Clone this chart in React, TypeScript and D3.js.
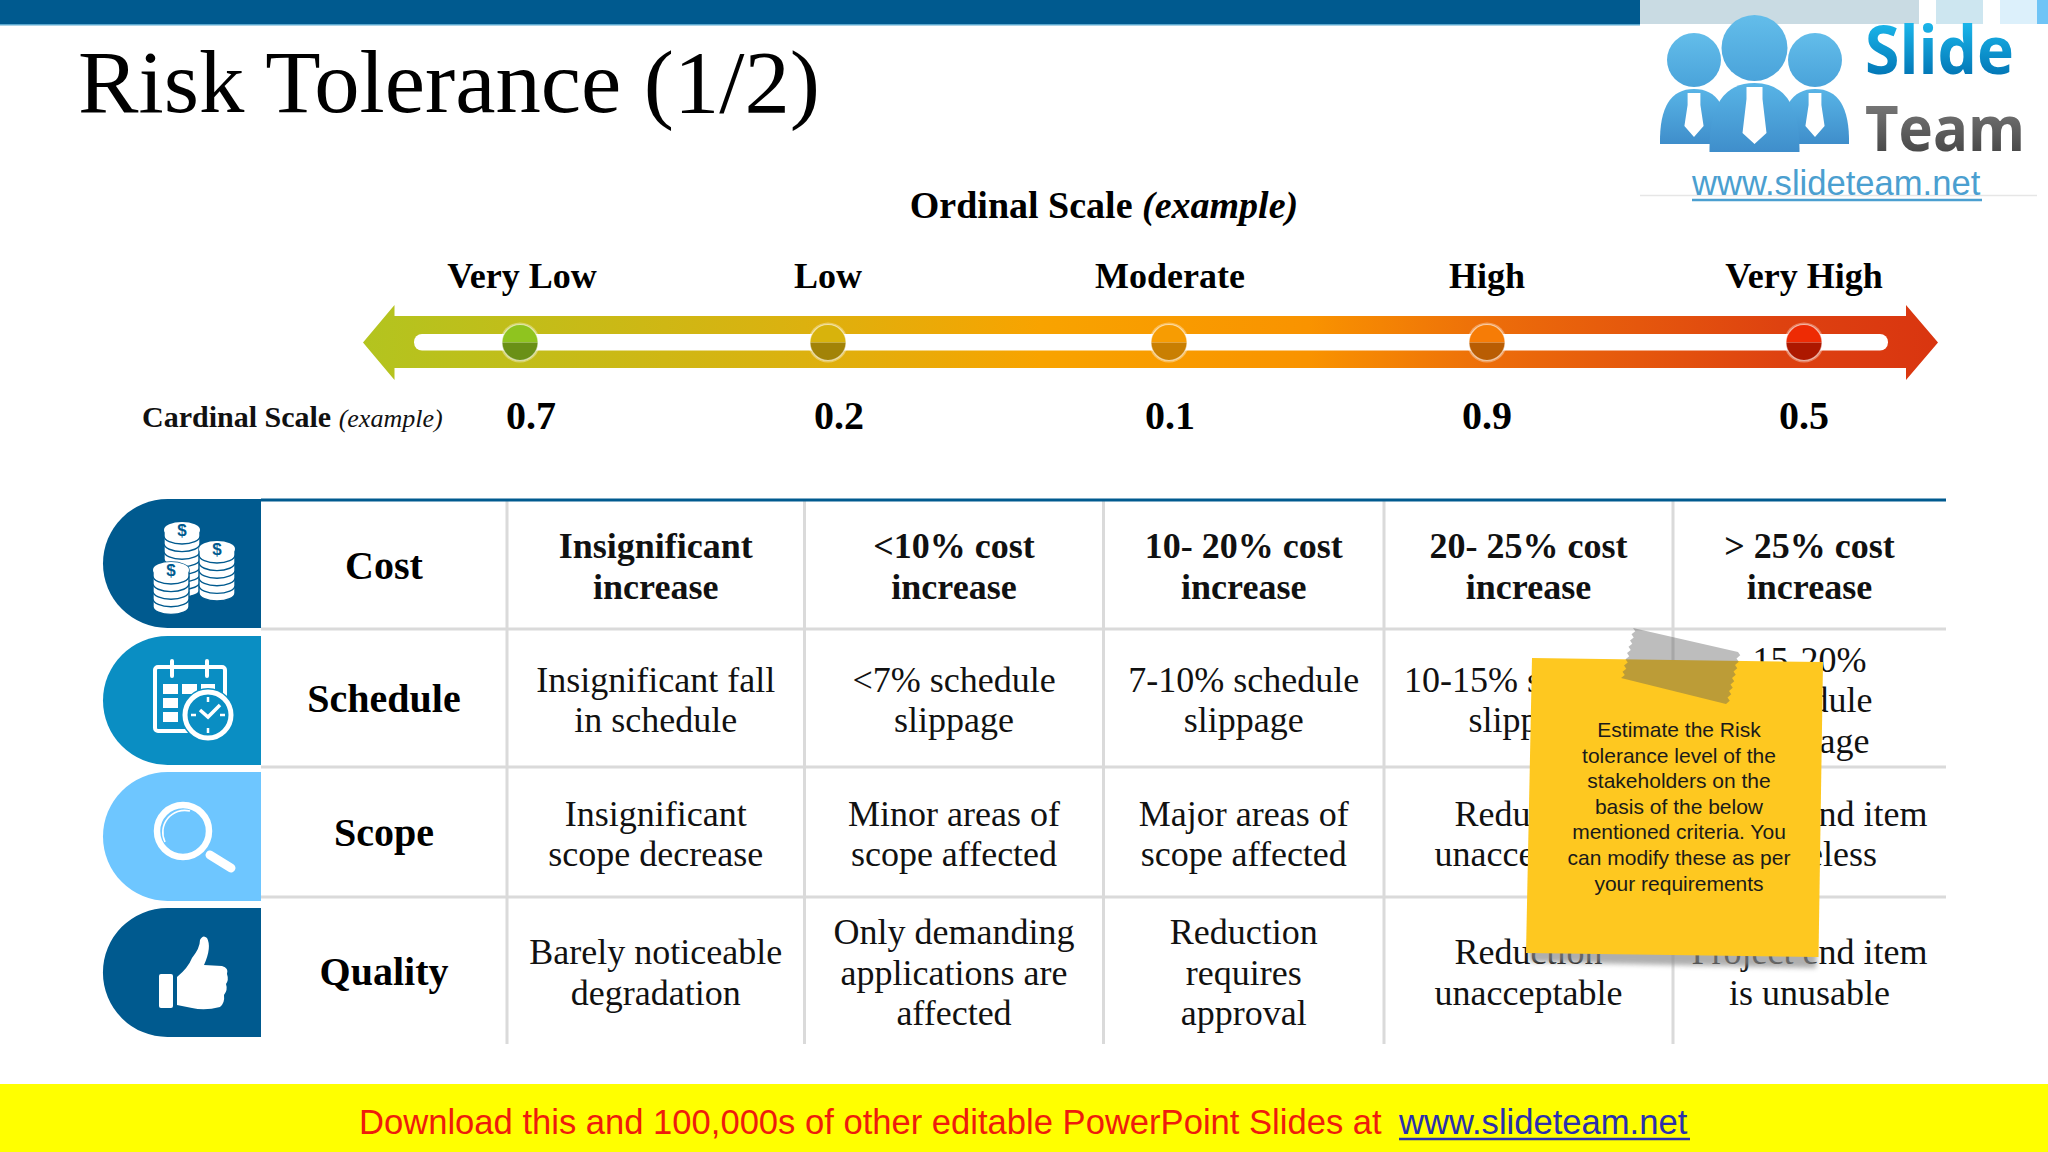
import * as d3 from 'd3';
import React from "react";

// --- data ---
const levels = ["Very Low", "Low", "Moderate", "High", "Very High"];
const cardinal = [0.7, 0.2, 0.1, 0.9, 0.5];
const dotTop = ["#8fc41f", "#d8b30c", "#f79c02", "#f67c06", "#ee2b04"];
const dotBottom = ["#6a9016", "#a28307", "#c97f02", "#b95d03", "#ad1800"];
const criteria = ["Cost", "Schedule", "Scope", "Quality"];
const criteriaColor = ["#005a8f", "#0a8ec3", "#6ec6ff", "#005a8f"];
const costRow = ["Insignificant\nincrease", "<10% cost\nincrease", "10- 20% cost\nincrease", "20- 25% cost\nincrease", "> 25% cost\nincrease"];
const scheduleRow = ["Insignificant fall\nin schedule", "<7% schedule\nslippage", "7-10% schedule\nslippage", "10-15% schedule\nslippage", "15-20%\nschedule\nslippage"];
const scopeRow = ["Insignificant\nscope decrease", "Minor areas of\nscope affected", "Major areas of\nscope affected", "Reduction\nunacceptable", "Project end item\nis useless"];
const qualityRow = ["Barely noticeable\ndegradation", "Only demanding\napplications are\naffected", "Reduction\nrequires\napproval", "Reduction\nunacceptable", "Project end item\nis unusable"];
const tableRows = [costRow, scheduleRow, scopeRow, qualityRow];
const noteLines = ["Estimate the Risk", "tolerance level of the", "stakeholders on the", "basis of the below", "mentioned criteria. You", "can modify these as per", "your requirements"];

// --- layout ---
const SERIF = "'Liberation Serif', serif";
const SANS = "'Liberation Sans', Arial, sans-serif";
const BLUE = "#005a8f";
const GRID = "#dadada";

const colEdges = [507, 804.5, 1103.5, 1384, 1673, 1946];
const rowEdges = [500, 629, 767, 897, 1044];
const LABEL_X = 384;
const levelX = d3.scaleOrdinal<string, number>().domain(levels).range([520, 828, 1169, 1487, 1804]);
const levelLabelX = d3.scaleOrdinal<string, number>().domain(levels).range([522, 828, 1170, 1487, 1804]);
const cardinalX = d3.scaleOrdinal<string, number>().domain(levels).range([531, 839, 1170, 1487, 1804]);
const rowMid = d3.scaleOrdinal<string, number>().domain(criteria).range(criteria.map((_, i) => (rowEdges[i] + rowEdges[i + 1]) / 2));
const pillTop = d3.scaleOrdinal<string, number>().domain(criteria).range([499, 636, 772, 908]);
const PILL_H = 129;
const LINE_H = 40.5;

const ARROW_Y = 342.5;
const arrowArea = d3.line<[number, number]>();

function pillPath(y: number) {
  const r = PILL_H / 2, x0 = 103, x1 = 261;
  const p = d3.path();
  p.moveTo(x1, y);
  p.lineTo(x0 + r, y);
  p.arc(x0 + r, y + r, r, -Math.PI / 2, Math.PI / 2, true);
  p.lineTo(x1, y + PILL_H);
  p.closePath();
  return p.toString();
}

function CoinStack({ cx, top, n, fill }: { cx: number; top: number; n: number; fill: string }) {
  const rx = 18, ry = 8, gap = 7.6;
  return (
    <g>
      {d3.range(n - 1, -1, -1).map(i => (
        <path key={i} d={`M${cx - rx},${top + i * gap} v6 a${rx},${ry} 0 0 0 ${rx * 2},0 v-6 a${rx},${ry} 0 0 0 ${-rx * 2},0 Z`}
          fill="#fff" stroke={fill} strokeWidth={1.4} />
      ))}
      <ellipse cx={cx} cy={top} rx={rx} ry={ry} fill="#fff" />
      <text x={cx} y={top + 5.5} textAnchor="middle" fontFamily={SANS} fontWeight={700} fontSize={17} fill={fill}>$</text>
    </g>
  );
}

function CoinsIcon({ fill }: { fill: string }) {
  return (
    <g>
      <CoinStack cx={182} top={530} n={8} fill={fill} />
      <CoinStack cx={217} top={549} n={6} fill={fill} />
      <CoinStack cx={171} top={570} n={5} fill={fill} />
    </g>
  );
}

function CalendarIcon({ fill }: { fill: string }) {
  const cells = [[163, 684, 15, 10], [163, 698, 15, 10], [163, 712, 15, 10], [182, 684, 15, 10], [201, 684, 14, 5]];
  return (
    <g>
      <rect x={155} y={667} width={70} height={64} rx={3} fill="none" stroke="#fff" strokeWidth={4} />
      {[172, 207].map(x => <line key={x} x1={x} x2={x} y1={661} y2={676} stroke="#fff" strokeWidth={4} strokeLinecap="round" />)}
      {cells.map((c, i) => <rect key={i} x={c[0]} y={c[1]} width={c[2]} height={c[3]} fill="#fff" />)}
      <circle cx={208} cy={715} r={27} fill={fill} />
      <circle cx={208} cy={715} r={23} fill={fill} stroke="#fff" strokeWidth={5} />
      <path d="M200,710 L208,717 L220,705" fill="none" stroke="#fff" strokeWidth={3.5} />
      <path d="M208,697 v5 M208,728 v5 M191,715 h5 M220,715 h5" stroke="#fff" strokeWidth={2.5} />
    </g>
  );
}

function GlassIcon() {
  return (
    <g fill="none" stroke="#fff">
      <circle cx={183} cy={831} r={26} strokeWidth={6.5} />
      <path d="M165,842 A 22,22 0 0 1 190,811" strokeWidth={1.6} />
      <line x1={210} y1={855} x2={231} y2={868} strokeWidth={9} strokeLinecap="round" />
    </g>
  );
}

function ThumbIcon() {
  return (
    <g fill="#fff">
      <rect x={159} y={974} width={14} height={34} rx={2} />
      <path d="M177,977 Q188,968 192,958 Q200,948 200,940 Q203,934 207,938 Q212,947 204,965 L222,966 Q229,968 227,974 Q229,980 226,984 Q228,990 224,995 Q225,1003 220,1007 Q205,1011 192,1008 L177,1005 Z" />
    </g>
  );
}

function Person({ cx, headY, r, top, bottom, half, tieTop, tieBottom, tieW }: any) {
  const body = `M${cx - half},${bottom} Q${cx - half - 1},${top} ${cx},${top} Q${cx + half + 1},${top} ${cx + half},${bottom} Z`;
  const tie = [[cx - tieW * 0.4, tieTop], [cx + tieW * 0.4, tieTop], [cx + tieW * 0.4, tieTop + 12], [cx + tieW * 0.6, tieBottom - 11], [cx, tieBottom], [cx - tieW * 0.6, tieBottom - 11], [cx - tieW * 0.4, tieTop + 12]];
  return (
    <g>
      <circle cx={cx} cy={headY} r={r} fill="url(#headGrad)" />
      <path d={body} fill="url(#bodyGrad)" />
      <path d={(arrowArea(tie as [number, number][]) ?? "") + "Z"} fill="#fff" />
    </g>
  );
}

function Logo() {
  return (
    <g>
      <rect x={1640} y={24} width={397} height={171} fill="#fff" />
      <line x1={1640} x2={2037} y1={195.5} y2={195.5} stroke="#e6e6e6" strokeWidth={1.5} />
      <Person cx={1694} headY={60} r={27} top={89} bottom={144} half={34} tieTop={93} tieBottom={137} tieW={16} />
      <Person cx={1815} headY={60} r={27} top={89} bottom={144} half={34} tieTop={93} tieBottom={137} tieW={16} />
      <Person cx={1754.5} headY={48} r={33} top={83} bottom={152} half={45} tieTop={87} tieBottom={144} tieW={20} />
      <text x={1865} y={74} fontFamily="'Open Sans', sans-serif" fontWeight={700} fontSize={66} textLength={149} lengthAdjust="spacingAndGlyphs" fill="url(#slideGrad)">Slide</text>
      <text x={1865} y={151} fontFamily="'Open Sans', sans-serif" fontWeight={700} fontSize={63} textLength={160} lengthAdjust="spacingAndGlyphs" fill="url(#teamGrad)">Team</text>
      <text x={1692} y={195} fontFamily={SANS} fontSize={34.6} fill="#4b9fd0">www.slideteam.net</text>
      <line x1={1692} x2={1982} y1={200} y2={200} stroke="#4b9fd0" strokeWidth={2.5} />
    </g>
  );
}

function zigzag(a: [number, number], b: [number, number], teeth: number, amp: number) {
  return d3.range(teeth * 2 + 1).map(i => {
    const t = i / (teeth * 2);
    const off = i % 2 ? amp : 0;
    return [a[0] + (b[0] - a[0]) * t + off, a[1] + (b[1] - a[1]) * t] as [number, number];
  });
}

function StickyNote() {
  const note: [number, number][] = [[1532, 658], [1823, 662], [1818.5, 957], [1526, 953]];
  const shadow: [number, number][] = [[1528, 945], [1817, 950], [1816, 968], [1530, 962]];
  const tape = [
    ...zigzag([1633, 628], [1621, 678], 8, 3),
    ...zigzag([1726, 704], [1738, 652], 8, 3),
  ];
  const close = (pts: [number, number][]) => (arrowArea(pts) ?? "") + "Z";
  return (
    <g>
      <path d={close(shadow)} fill="#8c8c8c" opacity={0.7} filter="url(#soft)" />
      <path d={close(note)} fill="#fec820" />
      <path d={close(tape)} fill="#5a5a5a" opacity={0.4} />
      {noteLines.map((l, i) => (
        <text key={l} x={1679} y={737 + i * 25.6} textAnchor="middle" fontFamily={SANS} fontSize={21} fill="#1a1a1a">{l}</text>
      ))}
    </g>
  );
}

function ScaleArrow() {
  const pts: [number, number][] = [
    [363, ARROW_Y], [394.5, 305], [394.5, 316], [1906, 316], [1906, 305], [1938, ARROW_Y], [1906, 380], [1906, 368], [394.5, 368], [394.5, 380],
  ];
  const half = (r: number, flip: boolean) => d3.arc()({
    innerRadius: 0, outerRadius: r,
    startAngle: flip ? Math.PI / 2 : -Math.PI / 2,
    endAngle: flip ? Math.PI * 1.5 : Math.PI / 2,
  }) ?? "";
  return (
    <g>
      <path d={(arrowArea(pts) ?? "") + "Z"} fill="url(#scaleGrad)" />
      <rect x={414} y={334} width={1474} height={16.5} rx={8} fill="#fff" />
      {levels.map((l, i) => (
        <g key={l} transform={`translate(${levelX(l)},${ARROW_Y})`}>
          <circle r={20} fill="#fff" opacity={0.35} />
          <path d={half(18, false)} fill={dotTop[i]} />
          <path d={half(18, true)} fill={dotBottom[i]} />
          <circle r={18} fill="none" stroke="#fff" strokeOpacity={0.55} strokeWidth={1.2} />
        </g>
      ))}
    </g>
  );
}

function Table() {
  return (
    <g>
      {rowEdges.slice(1, -1).map(y => <line key={y} x1={261} x2={colEdges[5]} y1={y} y2={y} stroke={GRID} strokeWidth={3} />)}
      {colEdges.slice(0, -1).map(x => <line key={x} x1={x} x2={x} y1={rowEdges[0]} y2={rowEdges[4]} stroke={GRID} strokeWidth={3} />)}
      <line x1={261} x2={colEdges[5]} y1={500} y2={500} stroke={BLUE} strokeWidth={3} />
      {criteria.map((c, r) => (
        <g key={c}>
          <path d={pillPath(pillTop(c))} fill={criteriaColor[r]} />
          <text x={LABEL_X} y={rowMid(c) + 14} textAnchor="middle" fontFamily={SERIF} fontWeight={700} fontSize={40} fill="#000">{c}</text>
          {tableRows[r].map((cell, k) => {
            const lines = cell.split("\n");
            const cx = (colEdges[k] + colEdges[k + 1]) / 2;
            return lines.map((l, i) => (
              <text key={i + l} x={cx} y={rowMid(c) + 14 + (i - (lines.length - 1) / 2) * LINE_H} textAnchor="middle"
                fontFamily={SERIF} fontWeight={r === 0 ? 700 : 400} fontSize={36} fill="#111">{l}</text>
            ));
          })}
        </g>
      ))}
      <CoinsIcon fill={criteriaColor[0]} />
      <CalendarIcon fill={criteriaColor[1]} />
      <GlassIcon />
      <ThumbIcon />
    </g>
  );
}

export default function App() {
  return (
    <svg width={2048} height={1152} viewBox="0 0 2048 1152" style={{ position: "absolute", left: 0, top: 0, background: "#fff" }}>
      <defs>
        <linearGradient id="scaleGrad" gradientUnits="userSpaceOnUse" x1={363} x2={1938} y1={0} y2={0}>
          <stop offset="0" stopColor="#b3c41f" />
          <stop offset="0.28" stopColor="#dcb10f" />
          <stop offset="0.43" stopColor="#f8a300" />
          <stop offset="0.6" stopColor="#f99300" />
          <stop offset="0.72" stopColor="#ec6c0a" />
          <stop offset="0.9" stopColor="#de4210" />
          <stop offset="1" stopColor="#d93510" />
        </linearGradient>
        <linearGradient id="headGrad" x1="0" x2="0" y1="0" y2="1">
          <stop offset="0" stopColor="#63bdea" />
          <stop offset="1" stopColor="#4aa3da" />
        </linearGradient>
        <linearGradient id="bodyGrad" x1="0" x2="0" y1="0" y2="1">
          <stop offset="0" stopColor="#58b4e6" />
          <stop offset="1" stopColor="#3f8ecb" />
        </linearGradient>
        <linearGradient id="slideGrad" x1="0" x2="0" y1="0" y2="1">
          <stop offset="0.2" stopColor="#1cb8ec" />
          <stop offset="0.85" stopColor="#0072b2" />
        </linearGradient>
        <linearGradient id="teamGrad" x1="0" x2="0" y1="0" y2="1">
          <stop offset="0.2" stopColor="#7a7a7a" />
          <stop offset="0.85" stopColor="#454545" />
        </linearGradient>
        <filter id="soft" x="-5%" y="-50%" width="110%" height="200%">
          <feGaussianBlur stdDeviation="2.5" />
        </filter>
      </defs>

      <rect x={0} y={0} width={1640} height={24} fill={BLUE} />
      <rect x={0} y={24} width={1640} height={1.5} fill="#5ba8cf" />
      <rect x={1640} y={0} width={279} height={24} fill="#c9dbe3" />
      <rect x={1936} y={0} width={47} height={24} fill="#cde6f0" />
      <rect x={2000} y={0} width={37} height={24} fill="#dcf0fb" />
      <rect x={2037} y={0} width={11} height={24} fill="#6fc4f6" />
      <Logo />

      <text x={78} y={112} fontFamily={SERIF} fontSize={88} textLength={742} lengthAdjust="spacingAndGlyphs" fill="#000">Risk Tolerance (1/2)</text>

      <text x={1104} y={218} textAnchor="middle" fontFamily={SERIF} fontWeight={700} fontSize={38} fill="#000">
        Ordinal Scale <tspan fontStyle="italic">(example)</tspan>
      </text>
      {levels.map(l => (
        <text key={l} x={levelLabelX(l)} y={288} textAnchor="middle" fontFamily={SERIF} fontWeight={700} fontSize={36} fill="#000">{l}</text>
      ))}
      <ScaleArrow />
      <text x={142} y={427} fontFamily={SERIF} fontWeight={700} fontSize={30} fill="#111">
        Cardinal Scale <tspan fontWeight={400} fontStyle="italic" fontSize={26}>(example)</tspan>
      </text>
      {levels.map((l, i) => (
        <text key={l} x={cardinalX(l)} y={429} textAnchor="middle" fontFamily={SERIF} fontWeight={700} fontSize={40} fill="#000">{cardinal[i].toFixed(1)}</text>
      ))}

      <Table />
      <StickyNote />

      <rect x={0} y={1084} width={2048} height={68} fill="#ffff00" />
      <text x={359} y={1134} fontFamily={SANS} fontSize={34.6} fill="#ee1c0c">Download this and 100,000s of other editable PowerPoint Slides at</text>
      <text x={1399} y={1134} fontFamily={SANS} fontSize={34.6} fill="#2b30ad">www.slideteam.net</text>
      <line x1={1399} x2={1690} y1={1139} y2={1139} stroke="#2b30ad" strokeWidth={2.5} />
    </svg>
  );
}
